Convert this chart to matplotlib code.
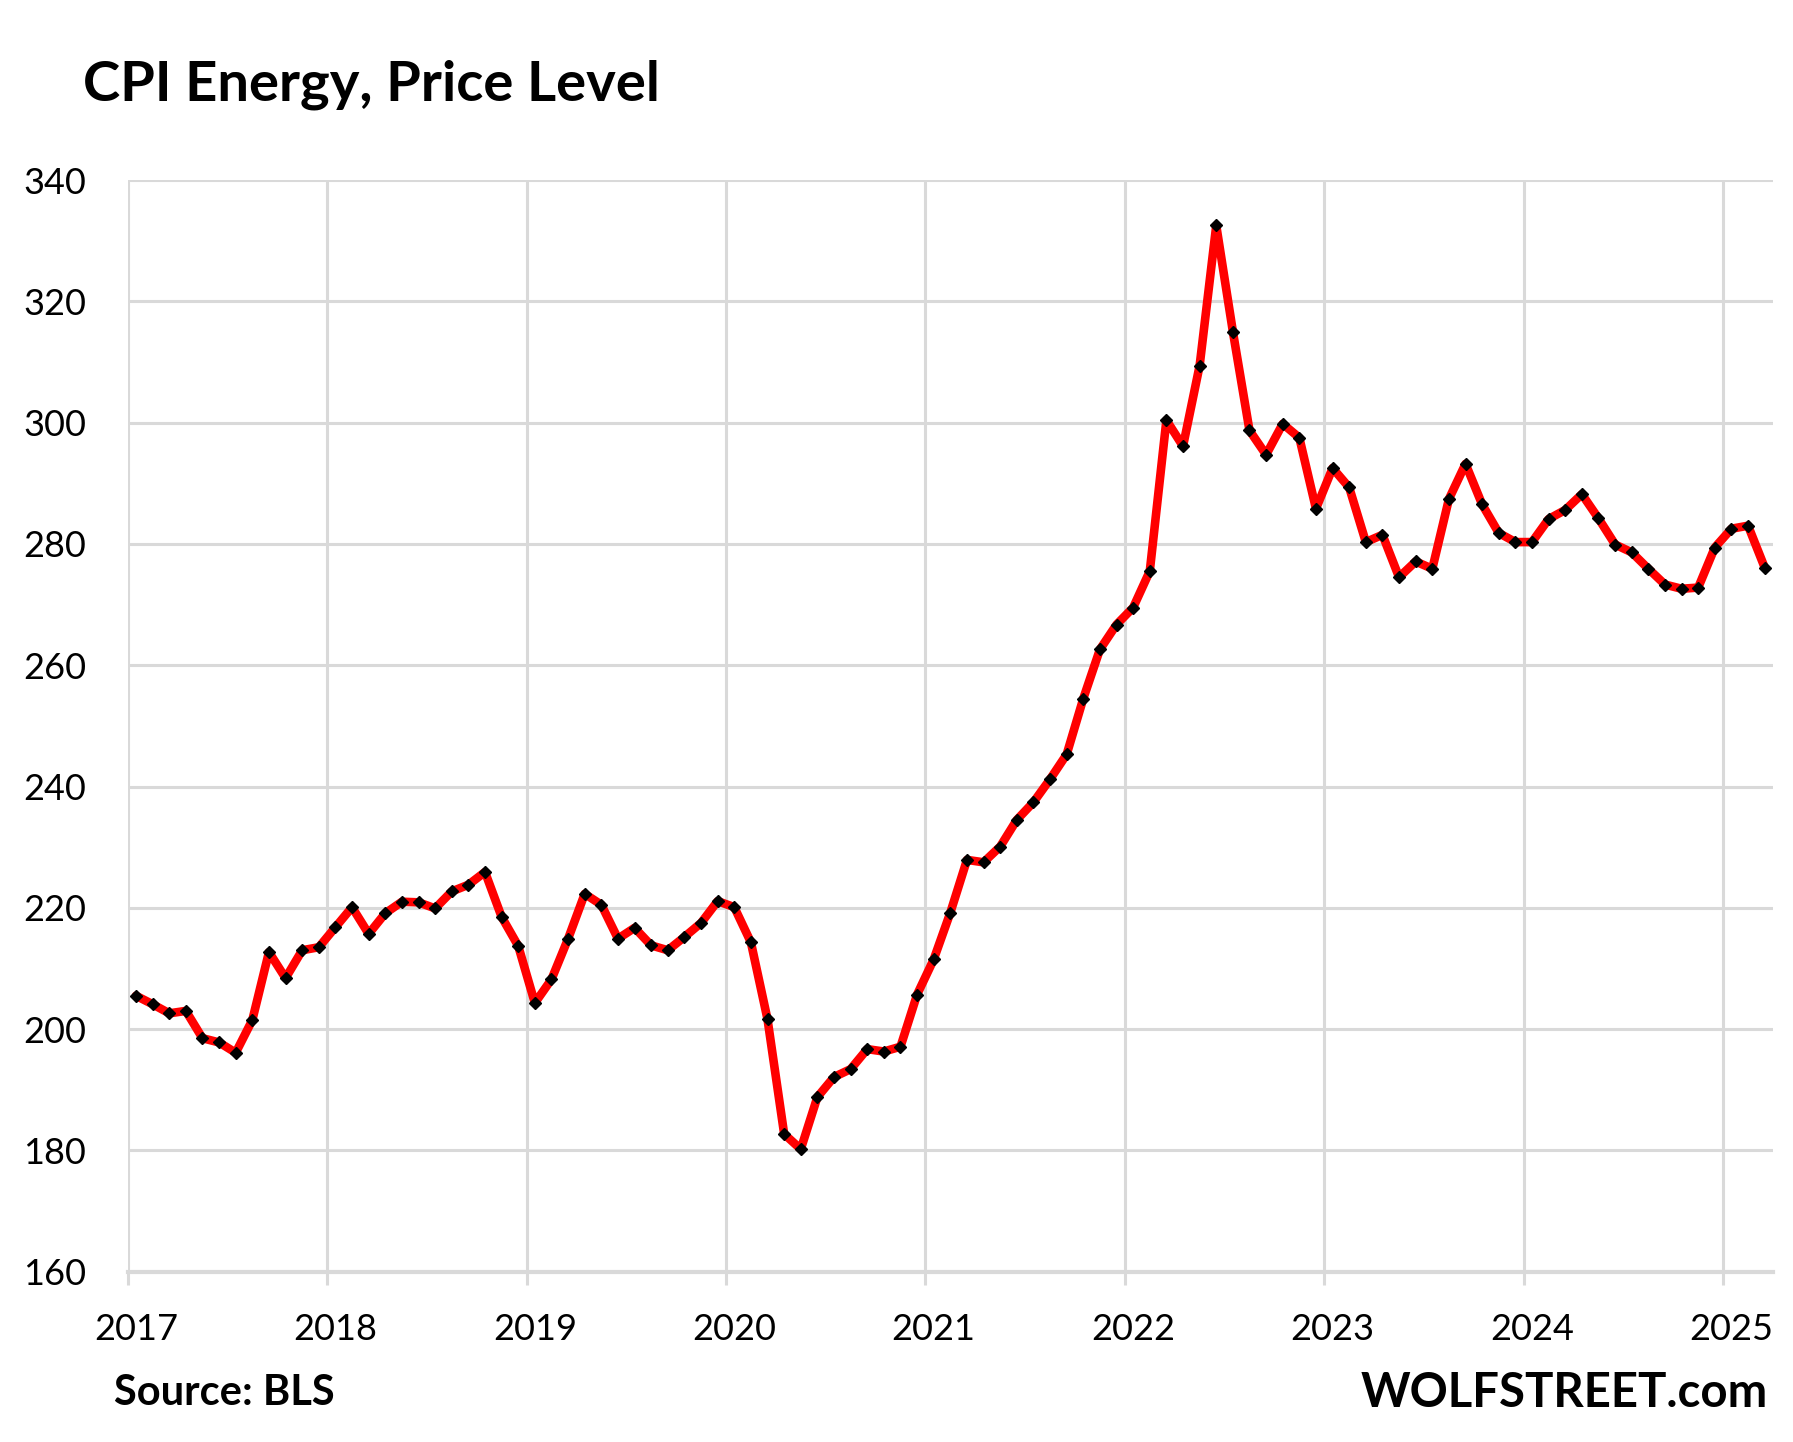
import matplotlib
matplotlib.use("Agg")
import matplotlib.pyplot as plt
import numpy as np

# ---- data (monthly, Jan 2017 - Mar 2025) ----
values_2017 = [205.5, 204.1, 202.6, 203.0, 198.5, 197.8, 196.1, 201.5, 212.7, 208.4, 213.0, 213.5]
values_2018 = [216.8, 220.1, 215.7, 219.1, 221.0, 220.9, 219.9, 222.7, 223.8, 225.9, 218.5, 213.7]
values_2019 = [204.3, 208.2, 214.9, 222.3, 220.5, 214.9, 216.7, 213.8, 213.0, 215.2, 217.5, 221.1]
values_2020 = [220.1, 214.3, 201.6, 182.7, 180.2, 188.8, 192.1, 193.4, 196.7, 196.3, 197.1, 205.7]
values_2021 = [211.5, 219.2, 227.9, 227.5, 230.1, 234.5, 237.4, 241.2, 245.3, 254.5, 262.6, 266.7]
values_2022 = [269.5, 275.5, 300.4, 296.1, 309.4, 332.5, 315.0, 298.7, 294.7, 299.8, 297.5, 285.8]
values_2023 = [292.5, 289.3, 280.3, 281.5, 274.5, 277.1, 275.9, 287.4, 293.2, 286.5, 281.8, 280.3]
values_2024 = [280.3, 284.1, 285.6, 288.2, 284.2, 279.9, 278.6, 275.9, 273.3, 272.6, 272.8, 279.4]
values_2025 = [282.5, 283.0, 276.1]

year_labels = ["2017", "2018", "2019", "2020", "2021", "2022", "2023", "2024", "2025"]
y_ticks = [160, 180, 200, 220, 240, 260, 280, 300, 320, 340]

values = (values_2017 + values_2018 + values_2019 + values_2020 + values_2021
          + values_2022 + values_2023 + values_2024 + values_2025)
months = np.arange(len(values)) + 0.5  # month index, centred between ticks

FONT = ["Lato", "DejaVu Sans"]
plt.rcParams["font.family"] = FONT

W, H = 1793, 1442
fig = plt.figure(figsize=(W / 100, H / 100), dpi=100)
ax = fig.add_axes([127.7 / W, 1 - 1271.7 / H, (1773 - 127.7) / W, (1271.7 - 180) / H])

grid_c = "#d9d9d9"
ax.set_xlim(0, len(values))
ax.set_ylim(160, 340)
ax.set_yticks(y_ticks)
year_pos = np.arange(len(year_labels)) * 12
ax.set_xticks(year_pos)
ax.set_xticklabels([])
ax.set_xticks(year_pos + 0.5, minor=True)
ax.set_xticklabels(year_labels, minor=True)

ax.grid(True, which="major", color=grid_c, linewidth=2.2, zorder=0)
ax.set_axisbelow(True)
for s in ["top", "right", "left"]:
    ax.spines[s].set_visible(False)
ax.spines["bottom"].set_color(grid_c)
ax.spines["bottom"].set_linewidth(3.0)

ax.tick_params(axis="y", length=0, pad=30, labelsize=26, labelcolor="black")
ax.tick_params(axis="x", which="major", length=9, width=2.2, color=grid_c)
ax.tick_params(axis="x", which="minor", length=0, pad=30,
               labelsize=26, labelcolor="black")

ax.plot(months, values, color="#ff0000", linewidth=6.2, zorder=3,
        solid_joinstyle="round", solid_capstyle="round")
ax.plot(months, values, linestyle="none", marker="D", markersize=5.8,
        color="black", zorder=4)

fig.text(83 / W, 1 - 85 / H, "CPI Energy, Price Level", fontsize=40.5,
         fontweight="bold", va="center", ha="left")
fig.text(114 / W, 1 - 1393 / H, "Source: BLS", fontsize=30,
         fontweight="bold", va="center", ha="left")
fig.text(1768 / W, 1 - 1393 / H, "WOLFSTREET.com", fontsize=34,
         fontweight="bold", va="center", ha="right")

fig.savefig("out.png", dpi=100, facecolor="white")
